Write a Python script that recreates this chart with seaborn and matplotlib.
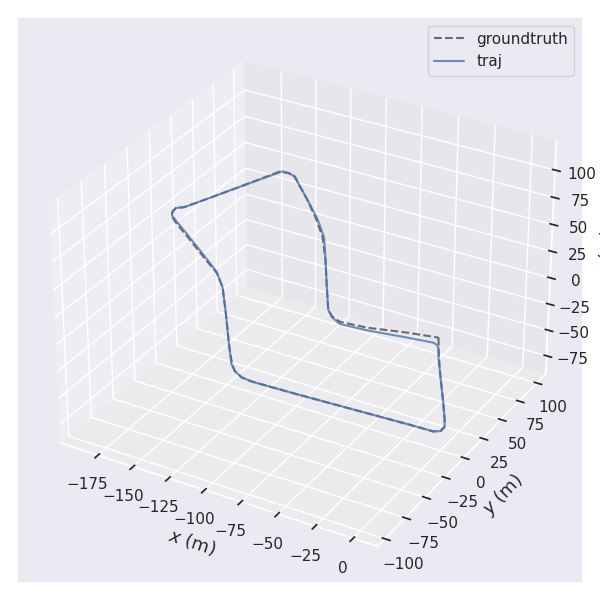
import numpy as np
import pandas as pd
import seaborn as sns
import matplotlib
matplotlib.use("Agg")
import matplotlib.pyplot as plt

sns.set_theme(style="darkgrid", palette="deep")

gt_x = [-3, -2.5, -1, 1, 2.5, 2.5, 0, -5, -20, -60, -100, -130, -137, -142, -144, -146, -148, -150, -154, -165, -175, -183, -186, -185.5, -183, -177, -165, -140, -110, -104, -100, -97.5, -91.5, -85, -80.5, -78.5, -77.5, -76.5, -74, -69, -50, -25, -3]
gt_y = [0, 0, 0, 0, 0, 0, 0, 0, -1, -2, -3, -3, -3, -3, -3, -3, -3, -3, -3, -2, -2, -2, -2, -2, -2, -2, -2, -2, -2, -2, -2, -2, -2, -2, -2, -2, -2, -2, -2, -1, -1, 0, 0]
gt_z = [12, -4, -24, -44, -62, -69, -74, -76.5, -76, -77, -78, -79, -78, -74, -68, -50, -20, 3, 15, 27, 40, 50, 55, 60, 64, 67, 76.8, 97.6, 123, 124, 123, 118, 106, 90, 75, 55, 30, 10, 5, 1, 3, 8, 12]
tr_x = [-3, -2.5, -1, 1, 2.5, 2.5, 0, -5, -20, -60, -100, -130, -137, -142, -144.5, -146, -148, -150, -154, -165, -175, -183, -186, -185.5, -183, -177, -165, -140, -108, -103, -99, -96.5, -90.5, -84, -79.5, -78.5, -77.5, -76.5, -74, -69, -50, -25, -6.5, -4, -3]
tr_y = [0, 0, 0, 0, 0, 0, 0, 0, -1, -2, -3, -3, -3, -3, -3, -3, -3, -3, -3, -2, -2, -2, -2, -2, -2, -2, -2, -2, -2, -2, -2, -2, -2, -2, -2, -2, -2, -2, -2, -1, -1, 0, 0, 0, 0]
tr_z = [3, -9, -24, -44, -62, -69, -74, -76.5, -76, -77, -78, -79, -78, -74, -68, -50, -20, 3, 16, 29, 42, 52, 56, 60, 64, 67, 76.8, 97.6, 124, 124, 122, 116, 104, 90, 75, 55, 30, 10, 4, -1, 0.5, 3.5, 6, 5, 3]
labels = ["groundtruth", "traj"]
x_ticks = [-175, -150, -125, -100, -75, -50, -25, 0]
y_ticks = [-100, -75, -50, -25, 0, 25, 50, 75, 100]
z_ticks = [-75, -50, -25, 0, 25, 50, 75, 100]

fig = plt.figure(figsize=(6, 6), dpi=100)
ax = fig.add_subplot(111, projection="3d")
ax.set_position([0.03, 0.03, 0.94, 0.94])
ax.set_facecolor("#eaeaf2")
pal = sns.color_palette("deep")
ax.plot(gt_x, gt_y, gt_z, ls="--", color="#6a6a6a", lw=1.5, label=labels[0])
ax.plot(tr_x, tr_y, tr_z, ls="-", color=pal[0], lw=1.5, alpha=0.8, label=labels[1])

ax.set_xlim(-202, 16)
ax.set_ylim(-109, 113)
ax.set_zlim(-92.5, 126.5)
ax.set_xticks(x_ticks)
ax.set_yticks(y_ticks)
ax.set_zticks(z_ticks)
ax.set_xlabel("$x$ (m)", fontsize=13)
ax.set_ylabel("$y$ (m)", fontsize=13)
ax.set_zlabel("$z$ (m)", fontsize=13)
ax.tick_params(labelsize=11)
ax.legend(loc="upper right", frameon=True, fontsize=11)
fig.savefig("out.png", dpi=100)
